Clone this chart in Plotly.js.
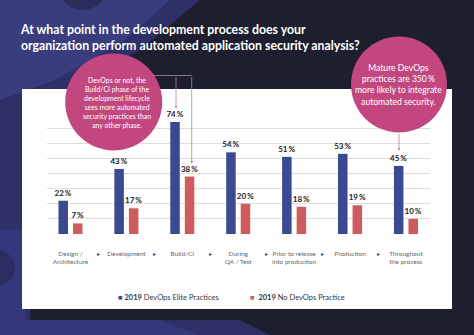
<!DOCTYPE html>
<html><head><meta charset="utf-8">
<script src="https://cdn.plot.ly/plotly-3.0.1.min.js"></script>
<style>html,body{margin:0;padding:0;background:#1d1f2e;}#chart{width:474px;height:335px;}</style>
</head><body><div id="chart"></div>
<script>
// ---- data ----
const categories = ['Design /<br>Architecture','Development','Build/CI','During<br>QA / Test','Prior to release<br>into production','Production','Throughout<br>the process'];
const eliteValues = [22, 43, 74, 54, 51, 53, 45];
const noDevOpsValues = [7, 17, 38, 20, 18, 19, 10];
const seriesNames = ['2019 DevOps Elite Practices', '2019 No DevOps Practice'];
const yTickValues = [0, 10, 20, 30, 40, 50, 60, 70, 80];
const titleText = 'At what point in the development process does your<br>organization perform automated application security analysis?';
const noteLeftLines = ['DevOps or not, the', 'Build/CI phase of the', 'development lifecycle', 'sees more automated', 'security practices than', 'any other phase.'];
const noteRightLines = ['Mature DevOps', 'practices are 350\u2009%', 'more likely to integrate', 'automated security.'];

// ---- styles / geometry ----
const W = 474, H = 335, L = 47, R = 430, T = 113, B = 234;
const X = px => (px - L) / (R - L);
const Y = py => (B - py) / (B - T);
const FONT = 'Lato, "Open Sans", sans-serif';
const BLUE = '#3b4990', RED = '#cd5c5c', PINK = '#c3477f', LINE = '#b5809f';
const poly = pts => 'M' + pts.map(p => X(p[0]).toFixed(4) + ',' + Y(p[1]).toFixed(4)).join(' L') + ' Z';

const traces = [
  {type:'bar', name:seriesNames[0], x:categories, y:eliteValues, marker:{color:BLUE},
   width:0.17, offset:-0.215, texttemplate:'<b>%{y}\u2009%</b>', textposition:'outside',
   constraintext:'none', textfont:{family:FONT, size:8, color:'#222'}, cliponaxis:false, hoverinfo:'skip'},
  {type:'bar', name:seriesNames[1], x:categories, y:noDevOpsValues, marker:{color:RED},
   width:0.17, offset:0.045, texttemplate:'<b>%{y}\u2009%</b>', textposition:'outside',
   constraintext:'none', textfont:{family:FONT, size:8, color:'#222'}, cliponaxis:false, hoverinfo:'skip'}
];

const shapes = [
  // background purple areas
  {type:'path', xref:'paper', yref:'paper', layer:'below', line:{width:0}, fillcolor:'#2e3167',
   path: poly([[0,0],[200,0],[140,50],[70,90],[30,100],[30,320],[240,320],[270,335],[0,335]])},
  {type:'path', xref:'paper', yref:'paper', layer:'below', line:{width:0}, fillcolor:'#393d7e',
   path: poly([[0,0],[170,0],[125,40],[55,80],[0,100]])},
  {type:'path', xref:'paper', yref:'paper', layer:'below', line:{width:0}, fillcolor:'#34387a',
   path: poly([[0,230],[25,230],[25,320],[160,320],[200,335],[0,335]])},
  {type:'circle', xref:'paper', yref:'paper', layer:'below', line:{width:0}, fillcolor:'#2a2c5c',
   x0:X(58), x1:X(108), y0:Y(-40), y1:Y(10)},
  {type:'circle', xref:'paper', yref:'paper', layer:'below', line:{width:0}, fillcolor:'#2b2e63',
   x0:X(-20), x1:X(15), y0:Y(250), y1:Y(285)},
  // white panel
  {type:'rect', xref:'paper', yref:'paper', layer:'below', line:{width:0}, fillcolor:'#ffffff',
   x0:X(22), x1:X(452), y0:Y(89), y1:Y(309)},
  // pink circles
  {type:'circle', xref:'paper', yref:'paper', layer:'above', line:{width:0}, fillcolor:PINK,
   x0:X(65.2), x1:X(162.2), y0:Y(53.5), y1:Y(150.5)},
  {type:'circle', xref:'paper', yref:'paper', layer:'above', line:{width:0}, fillcolor:PINK,
   x0:X(351), x1:X(447), y0:Y(36.5), y1:Y(132.5)},
  // connector lines
  {type:'path', xref:'paper', yref:'paper', layer:'above', line:{color:LINE, width:0.8},
   path:'M' + X(152) + ',' + Y(75.5) + ' L' + X(191.7) + ',' + Y(75.5)}
];

const annotations = [
  // circle notes
  {xref:'paper', yref:'paper', x:X(117), y:Y(102.5), xanchor:'center', yanchor:'middle',
   text:noteLeftLines.join('<br>'), showarrow:false, align:'center',
   font:{family:FONT, size:6.9, color:'#fff'}},
  {xref:'paper', yref:'paper', x:X(398.5), y:Y(84.5), xanchor:'center', yanchor:'middle',
   text:noteRightLines.join('<br>'), showarrow:false, align:'center',
   font:{family:FONT, size:8.6, color:'#fff'}},
  // arrows
  {xref:'paper', yref:'paper', x:X(176), y:Y(108.5), ax:0, ay:-33, text:'', showarrow:true,
   arrowhead:2, arrowsize:0.6, arrowwidth:0.8, arrowcolor:LINE},
  {xref:'paper', yref:'paper', x:X(191.7), y:Y(163.5), ax:0, ay:-88, text:'', showarrow:true,
   arrowhead:2, arrowsize:0.6, arrowwidth:0.8, arrowcolor:LINE},
  {xref:'paper', yref:'paper', x:X(399), y:Y(150.5), ax:0, ay:-18, text:'', showarrow:true,
   arrowhead:2, arrowsize:0.6, arrowwidth:0.8, arrowcolor:LINE},
  // legend
  {xref:'paper', yref:'paper', x:X(115.5), y:Y(297.7), xanchor:'left', yanchor:'middle', showarrow:false,
   text:'<span style="color:' + BLUE + '">\u25A0</span> <b>2019</b> DevOps Elite Practices',
   font:{family:FONT, size:7.5, color:'#333'}},
  {xref:'paper', yref:'paper', x:X(248), y:Y(297.7), xanchor:'left', yanchor:'middle', showarrow:false,
   text:'<span style="color:' + RED + '">\u25A0</span>  <b>2019</b> No DevOps Practice',
   font:{family:FONT, size:7.5, color:'#333'}}
];
// separator triangles between categories
for (let i = 0; i < categories.length - 1; i++) {
  annotations.push({xref:'x', yref:'paper', x:i + 0.5, y:Y(253.5), xanchor:'center', yanchor:'middle',
    text:'\u25B8', showarrow:false, font:{family:'DejaVu Sans', size:6, color:'#2e3b80'}});
}

const layout = {
  width:W, height:H, margin:{l:L, r:W - R, t:T, b:H - B, pad:0},
  paper_bgcolor:'#1d1f2e', plot_bgcolor:'rgba(0,0,0,0)',
  title:{text:titleText, xref:'container', yref:'container', x:21 / W, xanchor:'left',
         y:1 - 34 / H, yanchor:'top', font:{family:FONT, size:12.3, color:'#ffffff', weight:'bold'}},
  showlegend:false,
  barmode:'group',
  xaxis:{type:'category', range:[-0.42, 6.43], showgrid:false, zeroline:false, showline:false,
         ticks:'outside', ticklen:13, tickcolor:'rgba(0,0,0,0)',
         tickfont:{family:FONT, size:6.5, color:'#666'}, fixedrange:true},
  yaxis:{range:[0, 80], tickvals:yTickValues, showticklabels:false, showgrid:true,
         gridcolor:'#dddddd', gridwidth:1, zeroline:false, showline:false, fixedrange:true},
  shapes:shapes, annotations:annotations, font:{family:FONT}
};

Plotly.newPlot('chart', traces, layout, {displayModeBar:false, staticPlot:true});
</script>
</body></html>
